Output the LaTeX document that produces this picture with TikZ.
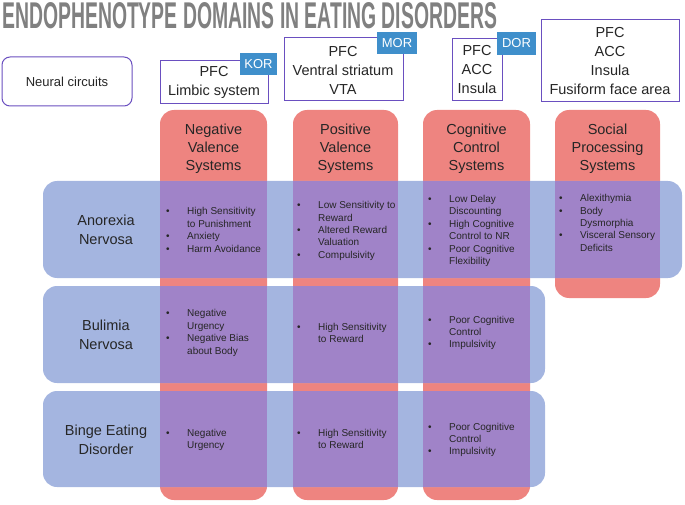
\documentclass[tikz,border=0pt]{standalone}
\usepackage{fontspec}
\setmainfont{Liberation Sans}
\usepackage{array}
\definecolor{rd}{HTML}{EE8480}
\definecolor{bl}{HTML}{A4B5E0}
\definecolor{pu}{HTML}{A083C8}
\definecolor{tg}{HTML}{3F8FCB}
\definecolor{bd}{HTML}{6A4FC0}
\definecolor{tx}{HTML}{262626}
\newcommand{\bul}[1]{\begin{tabular}{@{}>{\raggedright}p{21pt}@{}>{\raggedright\arraybackslash}p{78pt}@{}}#1\end{tabular}}
\begin{document}
\begin{tikzpicture}[x=1pt,y=-1pt,
  col/.style={fill=rd,rounded corners=14pt},
  row/.style={fill=bl,rounded corners=14pt},
  hd/.style={font=\fontsize{14.5}{18}\selectfont,text=tx,align=center},
  rl/.style={font=\fontsize{14.5}{19}\selectfont,text=tx,align=center},
  it/.style={font=\fontsize{10}{12.4}\selectfont,text=tx,anchor=west,inner sep=0pt},
  cir/.style={draw=bd,line width=1pt,fill=white},
  ct/.style={font=\fontsize{14.5}{19}\selectfont,text=tx,align=center},
  tag/.style={fill=tg,text=white,font=\fontsize{13}{15}\selectfont,inner sep=0pt}]
\useasboundingbox (0,0) rectangle (685,505);
\node[anchor=north west,inner sep=0pt,text=gray] (title) at (2,2) {\resizebox{495pt}{26pt}{\bfseries ENDOPHENOTYPE DOMAINS IN EATING DISORDERS}};
% columns
\fill[col] (160,110) rectangle (267,500);
\fill[col] (293,110) rectangle (398,500);
\fill[col] (423,110) rectangle (530,500);
\fill[col] (555,110) rectangle (660,298);
% rows
\fill[row] (43,181) rectangle (682,278);
\fill[row] (43,286) rectangle (545,383);
\fill[row] (43,391) rectangle (545,487);
% overlaps
\foreach \a/\b in {160/267,293/398,423/530}{
  \fill[pu] (\a,181) rectangle (\b,278);
  \fill[pu] (\a,286) rectangle (\b,383);
  \fill[pu] (\a,391) rectangle (\b,487);}
\fill[pu] (555,181) rectangle (660,278);
% headers
\node[hd] (h1) at (213.5,149) {Negative\\Valence\\Systems};
\node[hd] (h2) at (345.5,149) {Positive\\Valence\\Systems};
\node[hd] (h3) at (476.5,149) {Cognitive\\Control\\Systems};
\node[hd] (h4) at (607.5,149) {Social\\Processing\\Systems};
% row labels
\node[rl] (r1) at (106,230) {Anorexia\\Nervosa};
\node[rl] (r2) at (106,335) {Bulimia\\Nervosa};
\node[rl] (r3) at (106,440) {Binge Eating\\Disorder};
% items
\node[it] (a1) at (166,231) {\bul{• & High Sensitivity to Punishment\\ • & Anxiety\\ • & Harm Avoidance}};
\node[it] (a2) at (297,231) {\bul{• & Low Sensitivity to Reward\\ • & Altered Reward Valuation\\ • & Compulsivity}};
\node[it] (a3) at (428,231) {\bul{• & Low Delay Discounting\\ • & High Cognitive Control to NR\\ • & Poor Cognitive Flexibility}};
\node[it] (a4) at (559,224) {\bul{• & Alexithymia\\ • & Body Dysmorphia\\ • & Visceral Sensory Deficits}};
\node[it] (b1) at (166,333) {\bul{• & Negative Urgency\\ • & Negative Bias about Body}};
\node[it] (b2) at (297,334) {\bul{• & High Sensitivity to Reward}};
\node[it] (b3) at (428,333) {\bul{• & Poor Cognitive Control\\ • & Impulsivity}};
\node[it] (c1) at (166,440) {\bul{• & Negative Urgency}};
\node[it] (c2) at (297,440) {\bul{• & High Sensitivity to Reward}};
\node[it] (c3) at (428,440) {\bul{• & Poor Cognitive Control\\ • & Impulsivity}};
% neural circuits
\draw[cir,rounded corners=8pt] (2,57) rectangle (132,106);
\node[ct,font=\fontsize{13}{16}\selectfont] (nc) at (67,82) {Neural circuits};
\draw[cir] (160,61) rectangle (268,104);
\node[ct] (k) at (214,82) {PFC\\Limbic system};
\draw[cir] (284,38) rectangle (403,101);
\node[ct] (m) at (343,70) {PFC\\Ventral striatum\\VTA};
\draw[cir] (452,39) rectangle (502,101);
\node[ct] (d) at (477,70) {PFC\\ACC\\Insula};
\draw[cir] (541,20) rectangle (679,102);
\node[ct] (s) at (610,61) {PFC\\ACC\\Insula\\Fusiform face area};
\node[tag,minimum width=37pt,minimum height=22pt] (kor) at (258.5,64) {KOR};
\node[tag,minimum width=40pt,minimum height=22pt] (mor) at (397,43) {MOR};
\node[tag,minimum width=39pt,minimum height=23pt] (dor) at (516.5,43.5) {DOR};
\end{tikzpicture}
\end{document}
